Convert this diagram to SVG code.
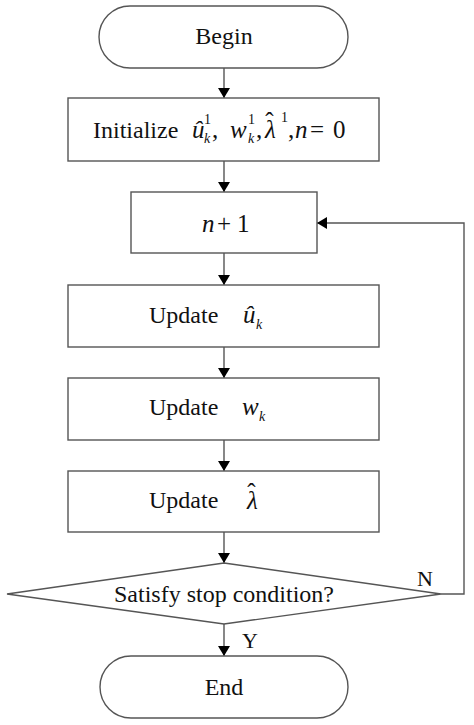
<svg xmlns="http://www.w3.org/2000/svg" width="474" height="725" viewBox="0 0 474 725">
<defs>
<marker id="arr" viewBox="0 0 10 12" refX="10" refY="6" markerWidth="10" markerHeight="12" markerUnits="userSpaceOnUse" orient="auto">
<path d="M0,0 L10,6 L0,12 z" fill="#000"/>
</marker>
</defs>
<style>
.box{fill:#fff;stroke:#555;stroke-width:1.4}
.line{fill:none;stroke:#555;stroke-width:1.4}
text{font-family:'Liberation Serif','Times New Roman','DejaVu Serif',serif;fill:#111}
.t{font-size:24px}
.m{font-style:italic;font-size:25px}
.s{font-size:14px}
.si{font-style:italic;font-size:14px}
.r{font-size:25px}
.h{font-style:normal}
.l{font-size:22px}
</style>
<rect width="474" height="725" fill="#fff"/>
<g id="connectors">
<line class="line" x1="224" y1="68" x2="224" y2="98" marker-end="url(#arr)"/>
<line class="line" x1="224" y1="161" x2="224" y2="192" marker-end="url(#arr)"/>
<line class="line" x1="224" y1="253" x2="224" y2="285" marker-end="url(#arr)"/>
<line class="line" x1="224" y1="347" x2="224" y2="378" marker-end="url(#arr)"/>
<line class="line" x1="224" y1="440" x2="224" y2="471" marker-end="url(#arr)"/>
<line class="line" x1="224" y1="532" x2="224" y2="563" marker-end="url(#arr)"/>
<line class="line" x1="224" y1="624" x2="224" y2="656" marker-end="url(#arr)"/>
<polyline class="line" points="441,594 464,594 464,223 317,223" marker-end="url(#arr)"/>
<text class="l" x="242" y="648">Y</text>
<text class="l" x="417" y="586">N</text>
</g>
<g id="begin">
<rect class="box" x="99" y="6" width="249" height="62" rx="31" ry="31"/>
<text class="t" x="224" y="44" text-anchor="middle">Begin</text>
</g>
<g id="init">
<rect class="box" x="68" y="98" width="311" height="63"/>
<text class="t" x="93" y="138">Initialize</text>
<text class="m" x="192" y="138">û</text>
<text class="s" x="204" y="124">1</text>
<text class="si" x="204" y="143">k</text>
<text class="r" x="212" y="138">,</text>
<text class="m" x="230" y="138">w</text>
<text class="s" x="248" y="124">1</text>
<text class="si" x="248" y="143">k</text>
<text class="r" x="256" y="138">,</text>
<text class="m" x="265" y="138">λ<tspan class="h" dx="-10.5" dy="-8">ˆ</tspan></text>
<text class="s" x="281" y="122">1</text>
<text class="r" x="288" y="138">,</text>
<text class="m" x="295" y="138">n</text>
<text class="r" x="310" y="138">=</text>
<text class="r" x="333" y="138">0</text>
</g>
<g id="nplus1">
<rect class="box" x="131" y="192" width="186" height="61"/>
<text class="m" x="202" y="232">n</text>
<text class="r" x="217" y="232">+</text>
<text class="r" x="237" y="232">1</text>
</g>
<g id="update-u">
<rect class="box" x="68" y="285" width="311" height="62"/>
<text class="t" x="149" y="323">Update</text>
<text class="m" x="243" y="323">û</text>
<text class="si" x="256" y="329">k</text>
</g>
<g id="update-w">
<rect class="box" x="68" y="378" width="311" height="62"/>
<text class="t" x="149" y="415">Update</text>
<text class="m" x="242" y="415">w</text>
<text class="si" x="259" y="421">k</text>
</g>
<g id="update-lambda">
<rect class="box" x="68" y="471" width="311" height="61"/>
<text class="t" x="149" y="508">Update</text>
<text class="m" x="247" y="509">λ<tspan class="h" dx="-10.5" dy="-8">ˆ</tspan></text>
</g>
<g id="decision">
<polygon class="box" points="224,563 441,594 224,624 7,594"/>
<text class="t" x="224" y="602" text-anchor="middle">Satisfy stop condition?</text>
</g>
<g id="end">
<rect class="box" x="100" y="656" width="248" height="62" rx="31" ry="31"/>
<text class="t" x="224" y="695" text-anchor="middle">End</text>
</g>
</svg>
